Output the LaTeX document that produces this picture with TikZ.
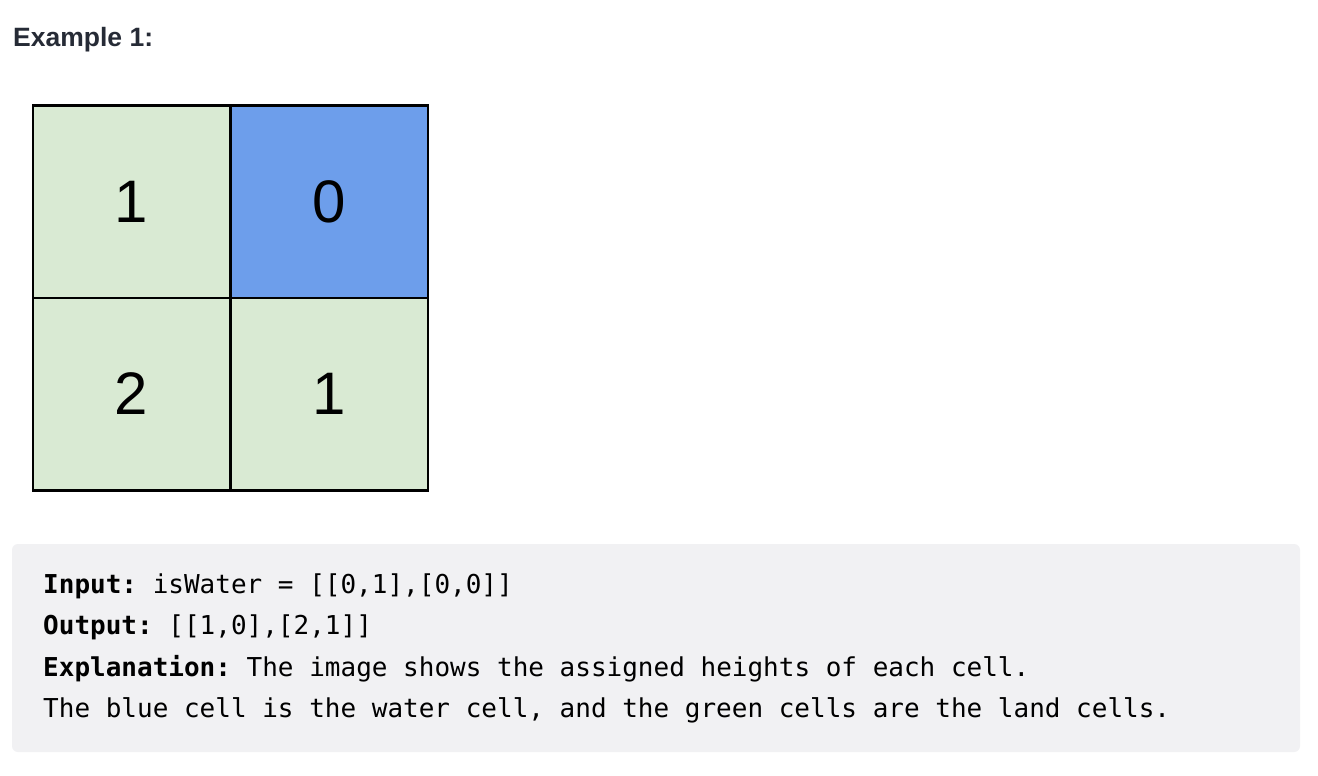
\documentclass[tikz,border=0pt]{standalone}
\usepackage{fontspec}
\setmainfont{Liberation Sans}
\newfontfamily\codefont{DejaVu Sans Mono}[BoldFont={DejaVu Sans Mono Bold}]
\definecolor{land}{HTML}{D9EAD3}
\definecolor{water}{HTML}{6D9EEB}
\definecolor{boxgray}{HTML}{F1F1F3}
\definecolor{titlecol}{HTML}{262B36}
\begin{document}
\begin{tikzpicture}[x=1pt,y=-1pt,
  cell/.style={draw=black, line width=2.5pt, minimum width=197.5pt, minimum height=192.5pt, inner sep=0pt, font=\fontsize{60}{72}\selectfont},
  codeline/.style={anchor=base west, inner sep=0pt, font=\codefont\fontsize{26}{30}\selectfont}]
\useasboundingbox (0,0) rectangle (1318,776);
\fill[white] (0,0) rectangle (1318,776);
\node[anchor=base west, inner sep=0pt, text=titlecol, font=\bfseries\fontsize{26.5}{30}\selectfont] (title) at (13,47) {Example 1:};
\node[cell, fill=land] (c00) at (131.5,201.5) {1};
\node[cell, fill=water] (c01) at (329,201.5) {0};
\node[cell, fill=land] (c10) at (131.5,394) {2};
\node[cell, fill=land] (c11) at (329,394) {1};
\fill[boxgray, rounded corners=6pt] (12,544) rectangle (1300,752);
\node[codeline] (l1) at (43,593) {\textbf{Input:}\ isWater = [[0,1],[0,0]]};
\node[codeline] (l2) at (43,634) {\textbf{Output:}\ [[1,0],[2,1]]};
\node[codeline] (l3) at (43,676) {\textbf{Explanation:}\ The image shows the assigned heights of each cell.};
\node[codeline] (l4) at (43,717) {The blue cell is the water cell, and the green cells are the land cells.};
\end{tikzpicture}
\end{document}
